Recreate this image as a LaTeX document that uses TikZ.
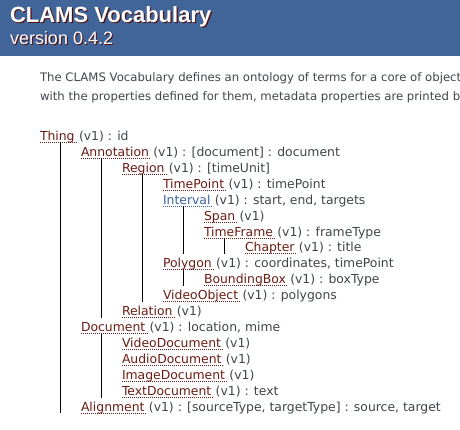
\documentclass[tikz,border=0pt]{standalone}
\usepackage{fontspec}
\setmainfont{DejaVu Sans}
\newfontfamily\headfont{Liberation Sans}
\usetikzlibrary{calc}
\definecolor{hdrblue}{RGB}{65,101,152}
\definecolor{lnkred}{RGB}{107,28,20}
\definecolor{lnkblue}{RGB}{59,100,160}
\definecolor{txtgray}{RGB}{64,70,78}
\definecolor{shadowred}{RGB}{80,14,14}
\newcommand\treeitem[6]{%
  \node[lnk=#1] (#2) at ({40+41*#3},{140.3+15.95*#4}) {#5};
  \node[body] (#2-r) at ([xshift=4.4pt]#2.base east) {#6};
  \draw[uline=#1] ([yshift=-2pt]#2.base west) -- ([xshift=2pt,yshift=-2pt]#2.base east);
}
\newcommand\vconn[2]{%
  \draw[vline] ($(#1.base west)+(20.7pt,-2pt)$) -- ($(#1.base west |- #2.base)+(20.7pt,-2pt)$);
}
\begin{document}
\begin{tikzpicture}[x=1pt,y=-1pt,
  every node/.style={inner sep=0pt, outer sep=0pt, anchor=base west},
  body/.style={font=\fontsize{12.4}{15}\selectfont, text=txtgray},
  introf/.style={font=\fontsize{11.7}{15}\selectfont, text=txtgray},
  lnk/.style={font=\fontsize{12.4}{15}\selectfont, text=#1},
  uline/.style={#1, line width=1pt, dash pattern=on 1pt off 1pt},
  vline/.style={black, line width=1pt},
  titlef/.style={font=\headfont\bfseries\fontsize{22}{24}\selectfont},
  verf/.style={font=\headfont\fontsize{18}{20}\selectfont},
]
\useasboundingbox (0,0) rectangle (460,429);
\clip (0,0) rectangle (460,429);
\fill[white] (0,0) rectangle (460,429);
\fill[hdrblue] (0,0) rectangle (460,56);
% header
\node[titlef, text=shadowred] (titleshadow) at (11.2,23.2) {CLAMS Vocabulary};
\node[titlef, text=white] (title) at (10,22) {CLAMS Vocabulary};
\node[verf, text=shadowred] (versionshadow) at (11.1,45.6) {version 0.4.2};
\node[verf, text=white] (version) at (10,44.5) {version 0.4.2};
% intro
\node[introf] (intro1) at (40,81.7) {The CLAMS Vocabulary defines an ontology of terms for a core of object};
\node[introf] (intro2) at (40,100.7) {with the properties defined for them, metadata properties are printed be};
% tree
\treeitem{lnkred}{thing}{0}{0}{Thing}{(v1) : id}
\treeitem{lnkred}{annotation}{1}{1}{Annotation}{(v1) : [document] : document}
\treeitem{lnkred}{region}{2}{2}{Region}{(v1) : [timeUnit]}
\treeitem{lnkred}{timepoint}{3}{3}{TimePoint}{(v1) : timePoint}
\treeitem{lnkblue}{interval}{3}{4}{Interval}{(v1) : start, end, targets}
\treeitem{lnkred}{span}{4}{5}{Span}{(v1)}
\treeitem{lnkred}{timeframe}{4}{6}{TimeFrame}{(v1) : frameType}
\treeitem{lnkred}{chapter}{5}{7}{Chapter}{(v1) : title}
\treeitem{lnkred}{polygon}{3}{8}{Polygon}{(v1) : coordinates, timePoint}
\treeitem{lnkred}{boundingbox}{4}{9}{BoundingBox}{(v1) : boxType}
\treeitem{lnkred}{videoobject}{3}{10}{VideoObject}{(v1) : polygons}
\treeitem{lnkred}{relation}{2}{11}{Relation}{(v1)}
\treeitem{lnkred}{document}{1}{12}{Document}{(v1) : location, mime}
\treeitem{lnkred}{videodocument}{2}{13}{VideoDocument}{(v1)}
\treeitem{lnkred}{audiodocument}{2}{14}{AudioDocument}{(v1)}
\treeitem{lnkred}{imagedocument}{2}{15}{ImageDocument}{(v1)}
\treeitem{lnkred}{textdocument}{2}{16}{TextDocument}{(v1) : text}
\treeitem{lnkred}{alignment}{1}{17}{Alignment}{(v1) : [sourceType, targetType] : source, target}
% connectors
\vconn{thing}{alignment}
\vconn{annotation}{relation}
\vconn{region}{videoobject}
\vconn{interval}{chapter}
\vconn{timeframe}{chapter}
\vconn{polygon}{boundingbox}
\vconn{document}{textdocument}
\end{tikzpicture}
\end{document}
